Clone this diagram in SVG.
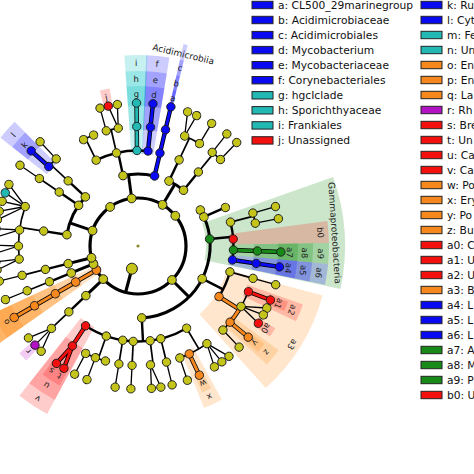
<svg xmlns="http://www.w3.org/2000/svg" width="474" height="474" viewBox="0 0 474 474">
<style>
.n circle{stroke:#1a1a1a;stroke-width:.9}
.y{fill:#c4c41a}.b{fill:#0a0af5}.c{fill:#22b8b4}.g{fill:#178a17}.r{fill:#f51010}.o{fill:#f7881e}.m{fill:#b312c4}
#wedges circle{fill:none}
.wb{stroke:#0000ff;stroke-opacity:.2}.wc{stroke:#00bfbf;stroke-opacity:.22}.wr{stroke:#ff0000;stroke-opacity:.2}.wo{stroke:#ff8000;stroke-opacity:.2}.wg{stroke:#008000;stroke-opacity:.2}.wm{stroke:#bf00bf;stroke-opacity:.2}
.W6{stroke-width:20}.W5{stroke-width:59}.W4{stroke-width:99}.W3{stroke-width:139}.W2{stroke-width:179}
#connectors circle,#connectors line,#connectors path{fill:none;stroke:#000}
.l2{stroke-width:3.2}.l3{stroke-width:3}.l4{stroke-width:2.4}.l5{stroke-width:1.7}.l6{stroke-width:1.3}
.cu{stroke-width:4.4}.cc{stroke-width:2.8}
#connectors .sb{stroke:#0a0af5}#connectors .sc{stroke:#22b8b4}#connectors .sg{stroke:#178a17}#connectors .sr{stroke:#f51010}#connectors .so{stroke:#f7881e}
.lab{font-family:"DejaVu Sans",sans-serif;font-size:8.5px;fill:#222;text-anchor:middle;dominant-baseline:central}
.big{font-family:"DejaVu Sans",sans-serif;font-size:9px;fill:#222;text-anchor:middle;dominant-baseline:central}
.leg text{font-family:"DejaVu Sans",sans-serif;font-size:10.7px;fill:#111}
.leg rect{stroke:#222;stroke-width:1}
</style>
<rect width="474" height="474" fill="#fff"/>
<g transform="translate(138,246)">
<g id="wedges">
<circle class="wb W3" r="137.5" pathLength="360" stroke-dasharray="1.2 360" transform="rotate(282.7)"/>
<circle class="wb W4" r="141.5" pathLength="360" stroke-dasharray="1.2 360" transform="rotate(282.7)"/>
<circle class="wb W5" r="145.5" pathLength="360" stroke-dasharray="1.2 360" transform="rotate(282.7)"/>
<circle class="wb W6" r="150" pathLength="360" stroke-dasharray="1.2 360" transform="rotate(282.7)"/>
<circle class="wb W4" r="141.5" pathLength="360" stroke-dasharray="7 360" transform="rotate(272.5)"/>
<circle class="wb W5" r="145.5" pathLength="360" stroke-dasharray="7 360" transform="rotate(272.5)"/>
<circle class="wb W6" r="150" pathLength="360" stroke-dasharray="7 360" transform="rotate(272.5)"/>
<circle class="wc W4" r="141.5" pathLength="360" stroke-dasharray="7 360" transform="rotate(265.9)"/>
<circle class="wc W5" r="145.5" pathLength="360" stroke-dasharray="7 360" transform="rotate(265.9)"/>
<circle class="wc W6" r="150" pathLength="360" stroke-dasharray="7 360" transform="rotate(265.9)"/>
<circle class="wr W6" r="150" pathLength="360" stroke-dasharray="3.6 360" transform="rotate(256.2)"/>
<circle class="wb W5" r="145.5" pathLength="360" stroke-dasharray="7 360" transform="rotate(218.2)"/>
<circle class="wb W6" r="150" pathLength="360" stroke-dasharray="7 360" transform="rotate(218.2)"/>
<circle class="wo W2" r="133.5" pathLength="360" stroke-dasharray="10 360" transform="rotate(145)"/>
<circle class="wo W3" r="137.5" pathLength="360" stroke-dasharray="10 360" transform="rotate(145)"/>
<circle class="wo W4" r="141.5" pathLength="360" stroke-dasharray="10 360" transform="rotate(145)"/>
<circle class="wo W5" r="145.5" pathLength="360" stroke-dasharray="10 360" transform="rotate(145)"/>
<circle class="wo W6" r="150" pathLength="360" stroke-dasharray="10 360" transform="rotate(145)"/>
<circle class="wm W6" r="150" pathLength="360" stroke-dasharray="3.6 360" transform="rotate(134.3)"/>
<circle class="wr W4" r="141.5" pathLength="360" stroke-dasharray="10 360" transform="rotate(118.4)"/>
<circle class="wr W5" r="145.5" pathLength="360" stroke-dasharray="10 360" transform="rotate(118.4)"/>
<circle class="wr W6" r="150" pathLength="360" stroke-dasharray="3.6 360" transform="rotate(123)"/>
<circle class="wr W6" r="150" pathLength="360" stroke-dasharray="3.6 360" transform="rotate(119.4)"/>
<circle class="wo W5" r="145.5" pathLength="360" stroke-dasharray="6.4 360" transform="rotate(61.4)"/>
<circle class="wo W6" r="150" pathLength="360" stroke-dasharray="3.6 360" transform="rotate(62.8)"/>
<circle class="wo W4" r="141.5" pathLength="360" stroke-dasharray="33 360" transform="rotate(15)"/>
<circle class="wo W5" r="145.5" pathLength="360" stroke-dasharray="6 360" transform="rotate(36.6)"/>
<circle class="wo W6" r="150" pathLength="360" stroke-dasharray="3.6 360" transform="rotate(37.8)"/>
<circle class="wr W6" r="150" pathLength="360" stroke-dasharray="3.6 360" transform="rotate(30.9)"/>
<circle class="wr W5" r="145.5" pathLength="360" stroke-dasharray="6 360" transform="rotate(19.5)"/>
<circle class="wr W6" r="150" pathLength="360" stroke-dasharray="3.6 360" transform="rotate(20.4)"/>
<circle class="wg W3" r="137.5" pathLength="360" stroke-dasharray="31.5 360" transform="rotate(340.5)"/>
<circle class="wr W4" r="141.5" pathLength="360" stroke-dasharray="6.6 360" transform="rotate(352.5)"/>
<circle class="wg W4" r="141.5" pathLength="360" stroke-dasharray="6.3 360" transform="rotate(359.1)"/>
<circle class="wg W5" r="145.5" pathLength="360" stroke-dasharray="6.3 360" transform="rotate(359.1)"/>
<circle class="wg W6" r="150" pathLength="360" stroke-dasharray="6.3 360" transform="rotate(359.1)"/>
<circle class="wb W4" r="141.5" pathLength="360" stroke-dasharray="6.3 360" transform="rotate(5.4)"/>
<circle class="wb W5" r="145.5" pathLength="360" stroke-dasharray="6.3 360" transform="rotate(5.4)"/>
<circle class="wb W6" r="150" pathLength="360" stroke-dasharray="6.3 360" transform="rotate(5.4)"/>
</g>
<g id="connectors">
<circle class="l2" r="48"/>
<line class="l2" x1="23.5" x2="48" transform="rotate(105)"/>
<line class="l3" x1="48" x2="72" transform="rotate(45)"/>
<circle class="l3" r="72" pathLength="360" stroke-dasharray="117 360" transform="rotate(-30)"/>
<line class="l3" x1="48" x2="72" transform="rotate(136.4)"/>
<line class="l3" x1="48" x2="72" transform="rotate(158)"/>
<line class="l3" x1="48" x2="72" transform="rotate(165.8)"/>
<line class="l3" x1="48" x2="72" transform="rotate(198.7)"/>
<circle class="l3" r="72" pathLength="360" stroke-dasharray="34 360" transform="rotate(189)"/>
<line class="l3" x1="48" x2="72" transform="rotate(262.4)"/>
<circle class="l3" r="72" pathLength="360" stroke-dasharray="25.3 360" transform="rotate(258)"/>
<line class="l3" x1="48" x2="72" transform="rotate(300.8)"/>
<circle class="l3" r="72" pathLength="360" stroke-dasharray="13.7 360" transform="rotate(295.5)"/>
<line class="l4" x1="72" x2="95.5" transform="rotate(336.2)"/>
<line class="l4" x1="72" x2="95.5" transform="rotate(354.4)"/>
<circle class="l4" r="95.5" pathLength="360" stroke-dasharray="22.9 360" transform="rotate(345.5)"/>
<line class="l4" x1="72" x2="95.5" transform="rotate(27)"/>
<circle class="l4" r="95.5" pathLength="360" stroke-dasharray="16.3 360" transform="rotate(15.7)"/>
<line class="l4" x1="72" x2="95.5" transform="rotate(87)"/>
<circle class="l4" r="95.5" pathLength="360" stroke-dasharray="63.9 360" transform="rotate(59.4)"/>
<line class="l4" x1="72" x2="95.5" transform="rotate(136.4)"/>
<line class="l4" x1="72" x2="95.5" transform="rotate(158)"/>
<line class="l4" x1="72" x2="95.5" transform="rotate(165.8)"/>
<line class="l4" x1="72" x2="95.5" transform="rotate(189)"/>
<line class="l4" x1="72" x2="95.5" transform="rotate(214.4)"/>
<line class="l4" x1="72" x2="95.5" transform="rotate(223)"/>
<line class="l4" x1="72" x2="95.5" transform="rotate(258)"/>
<circle class="l4" r="95.5" pathLength="360" stroke-dasharray="32 360" transform="rotate(244)"/>
<line class="l4" x1="72" x2="95.5" transform="rotate(295.5)"/>
<line class="l4" x1="72" x2="95.5" transform="rotate(309.2)"/>
<line class="l5" x1="95.5" x2="119.5" transform="rotate(345.5)"/>
<circle class="l5" r="119.5" pathLength="360" stroke-dasharray="5 360" transform="rotate(344)"/>
<line class="l5" x1="95.5" x2="119.5" transform="rotate(15.7)"/>
<line class="l5" x1="95.5" x2="119.5" transform="rotate(32)"/>
<circle class="l5" r="119.5" pathLength="360" stroke-dasharray="22.2 360" transform="rotate(22.5)"/>
<line class="l5" x1="95.5" x2="119.5" transform="rotate(59.4)"/>
<circle class="l5" r="119.5" pathLength="360" stroke-dasharray="14.7 360" transform="rotate(54.8)"/>
<line class="l5" x1="95.5" x2="119.5" transform="rotate(76.2)"/>
<line class="l5" x1="95.5" x2="119.5" transform="rotate(82.7)"/>
<circle class="l5" r="119.5" pathLength="360" stroke-dasharray="1.3 360" transform="rotate(82.7)"/>
<line class="l5" x1="95.5" x2="119.5" transform="rotate(92.85)"/>
<line class="l5" x1="95.5" x2="119.5" transform="rotate(99.2)"/>
<line class="l5" x1="95.5" x2="119.5" transform="rotate(109.4)"/>
<circle class="l5" r="119.5" pathLength="360" stroke-dasharray="10.2 360" transform="rotate(105.8)"/>
<line class="l5" x1="95.5" x2="119.5" transform="rotate(136.4)"/>
<line class="l5" x1="95.5" x2="119.5" transform="rotate(158)"/>
<line class="l5" x1="95.5" x2="119.5" transform="rotate(165.8)"/>
<line class="l5" x1="95.5" x2="119.5" transform="rotate(189)"/>
<circle class="l5" r="119.5" pathLength="360" stroke-dasharray="25.6 360" transform="rotate(173.7)"/>
<line class="l5" x1="95.5" x2="119.5" transform="rotate(214.4)"/>
<line class="l5" x1="95.5" x2="119.5" transform="rotate(223)"/>
<circle class="l5" r="119.5" pathLength="360" stroke-dasharray="5.1 360" transform="rotate(221.7)"/>
<line class="l5" x1="95.5" x2="119.5" transform="rotate(244)"/>
<circle class="l5" r="119.5" pathLength="360" stroke-dasharray="5.3 360" transform="rotate(242.9)"/>
<line class="l5" x1="95.5" x2="119.5" transform="rotate(257)"/>
<circle class="l5" r="119.5" pathLength="360" stroke-dasharray="5.9 360" transform="rotate(254.6)"/>
<line class="l5" x1="95.5" x2="119.5" transform="rotate(295.5)"/>
<circle class="l5" r="119.5" pathLength="360" stroke-dasharray="8 360" transform="rotate(293)"/>
<line class="l5" x1="95.5" x2="119.5" transform="rotate(309.2)"/>
<circle class="l5" r="119.5" pathLength="360" stroke-dasharray="5.25 360" transform="rotate(308.4)"/>
<g class="l6">
<line x1="119.5" x2="143" transform="rotate(344)"/>
<line x1="119.5" x2="143" transform="rotate(349)"/>
<line x1="119.5" x2="143" transform="rotate(15.7)"/>
<line x1="119.5" x2="143" transform="rotate(76.2)"/>
<line x1="119.5" x2="143" transform="rotate(92.85)"/>
<line x1="119.5" x2="143" transform="rotate(99.2)"/>
<line x1="119.5" x2="143" transform="rotate(110.9)"/>
<line x1="119.5" x2="143" transform="rotate(158)"/>
<line x1="119.5" x2="143" transform="rotate(165.8)"/>
<line x1="119.5" x2="143" transform="rotate(214.4)"/>
<line x1="119.5" x2="143" transform="rotate(226.8)"/>
<line x1="119.5" x2="143" transform="rotate(254.6)"/>
<line x1="119.5" x2="143" transform="rotate(301)"/>
<line x1="119.5" x2="143" transform="rotate(308.4)"/>
<line x1="119.5" x2="143" transform="rotate(313.65)"/>
<path d="M103.07 60.47L128.86 62.02M103.07 60.47L125.31 68.9M103.07 60.47L120.33 77.25M84.94 84.06L101.12 101.12M68.88 97.64L90.96 110.34M68.88 97.64L83.86 115.83M68.88 97.64L76.42 120.88M41.85 111.94L49.38 134.21M12.49 118.84L22.86 141.16M12.49 118.84L13.46 142.37M-52.39 107.41L-63.36 128.2M-86.54 82.41L-96.8 105.26M-86.54 82.41L-103.05 99.16M-86.54 82.41L-109.54 91.92M-118.78 13.11L-140.96 24.09M-118.78 13.11L-142.11 15.94M-119.5 0L-142.8 7.48M-119.5 0L-143 -0.75M-118.42 -16.01L-142.73 -8.73M-118.42 -16.01L-141.93 -17.43M-112.78 -39.5L-140.56 -26.31M-112.78 -39.5L-138.69 -34.83M-112.78 -39.5L-135.85 -44.66M-112.78 -39.5L-132.78 -53.11M-112.78 -39.5L-129.07 -61.56M-19.72 -117.86L-29.73 -139.87M-19.72 -117.86L-20.65 -141.5M46.69 -110L49.61 -134.12M46.69 -110L58.62 -130.43"/>
</g>
<g id="colored-edges">
<line class="cu" x1="72" x2="143" transform="rotate(283.3)"/>
<line class="cc sb" x1="72" x2="143" transform="rotate(283.3)"/>
<line class="cu" x1="95.5" x2="143" transform="rotate(276)"/>
<line class="cc sb" x1="95.5" x2="143" transform="rotate(276)"/>
<line class="cu" x1="95.5" x2="143" transform="rotate(269.4)"/>
<line class="cc sc" x1="95.5" x2="143" transform="rotate(269.4)"/>
<line class="cu" x1="95.5" x2="143" transform="rotate(2.4)"/>
<line class="cc sg" x1="95.5" x2="143" transform="rotate(2.4)"/>
<line class="cu" x1="95.5" x2="143" transform="rotate(8.4)"/>
<line class="cc sb" x1="95.5" x2="143" transform="rotate(8.4)"/>
<line class="cu" x1="48" x2="143" transform="rotate(150)"/>
<line class="cc so" x1="48" x2="143" transform="rotate(150)"/>
<line class="cu" x1="119.5" x2="143" transform="rotate(221.7)"/>
<line class="cc sb" x1="119.5" x2="143" transform="rotate(221.7)"/>
<line class="cu" x1="119.5" x2="143" transform="rotate(64.6)"/>
<line class="cc so" x1="119.5" x2="143" transform="rotate(64.6)"/>
<line class="cu" x1="119.5" x2="143" transform="rotate(39.6)"/>
<line class="cc so" x1="119.5" x2="143" transform="rotate(39.6)"/>
<line class="cu" x1="95.5" x2="119.5" transform="rotate(32)"/>
<circle class="cu" r="119.5" pathLength="360" stroke-dasharray="7.6 360" transform="rotate(32)"/>
<line class="cc so" x1="95.5" x2="119.5" transform="rotate(32)"/>
<circle class="cc so" r="119.5" pathLength="360" stroke-dasharray="7.6 360" transform="rotate(32)"/>
<line class="cu" x1="95.5" x2="119.5" transform="rotate(123.3)"/>
<line class="cc sr" x1="95.5" x2="119.5" transform="rotate(123.3)"/>
<path class="cu" d="M110.41 45.73L132.4 54.03M-65.61 99.88L-74.07 122.32M-65.61 99.88L-81.61 117.42"/>
<path class="cc sr" d="M110.41 45.73L132.4 54.03M-65.61 99.88L-74.07 122.32M-65.61 99.88L-81.61 117.42"/>
</g>
</g>
<g id="nodes" class="n">
<circle cx="0" cy="0" r="1.6" style="fill:#8a8a30;stroke:none"/>
<g id="kingdom"><circle class="y" cx="23.5" r="5.5" transform="rotate(105)"/></g>
<g id="P1"><circle class="y" cx="48" r="4.4" transform="rotate(45)"/></g>
<g id="P2"><circle class="y" cx="48" r="4.4" transform="rotate(136.4)"/></g>
<g id="P3"><circle class="o" cx="48" r="4.4" transform="rotate(150)"/></g>
<g id="P4a"><circle class="y" cx="48" r="4.4" transform="rotate(158)"/></g>
<g id="P4b"><circle class="y" cx="48" r="4.4" transform="rotate(165.8)"/></g>
<g id="P5"><circle class="y" cx="48" r="4.4" transform="rotate(198.7)"/></g>
<g id="P6"><circle class="y" cx="48" r="4.4" transform="rotate(234.5)"/></g>
<g id="P7"><circle class="y" cx="48" r="4.4" transform="rotate(262.4)"/></g>
<g id="P8"><circle class="y" cx="48" r="4.4" transform="rotate(300.8)"/></g>
<g id="P9"><circle class="y" cx="48" r="4.4" transform="rotate(321)"/></g>
<g id="C330"><circle class="y" cx="72" r="4.3" transform="rotate(330)"/></g>
<g id="C336"><circle class="y" cx="72" r="4.3" transform="rotate(336.2)"/></g>
<g id="Gammaproteobacteria"><circle class="g" cx="72" r="4.3" transform="rotate(354.4)"/></g>
<g id="C27"><circle class="y" cx="72" r="4.3" transform="rotate(27)"/></g>
<g id="C87"><circle class="y" cx="72" r="4.3" transform="rotate(87)"/></g>
<g id="C136"><circle class="y" cx="72" r="4.3" transform="rotate(136.4)"/></g>
<g id="C150"><circle class="o" cx="72" r="4.3" transform="rotate(150)"/></g>
<g id="C158"><circle class="y" cx="72" r="4.3" transform="rotate(158)"/></g>
<g id="C166"><circle class="y" cx="72" r="4.3" transform="rotate(165.8)"/></g>
<g id="C189"><circle class="y" cx="72" r="4.3" transform="rotate(189)"/></g>
<g id="C214"><circle class="y" cx="72" r="4.3" transform="rotate(214.4)"/></g>
<g id="C223"><circle class="y" cx="72" r="4.3" transform="rotate(223)"/></g>
<g id="C258"><circle class="y" cx="72" r="4.3" transform="rotate(258)"/></g>
<g id="Acidimicrobiia"><circle class="b" cx="72" r="4.3" transform="rotate(283.3)"/></g>
<g id="C295"><circle class="y" cx="72" r="4.3" transform="rotate(295.5)"/></g>
<g id="C309"><circle class="y" cx="72" r="4.3" transform="rotate(309.2)"/></g>
<g id="O336"><circle class="y" cx="95.5" r="4.2" transform="rotate(336.2)"/></g>
<g id="O345"><circle class="y" cx="95.5" r="4.2" transform="rotate(345.5)"/></g>
<g id="b0"><circle class="r" cx="95.5" r="4.2" transform="rotate(355.8)"/></g>
<g id="a9"><circle class="g" cx="95.5" r="4.2" transform="rotate(2.4)"/></g>
<g id="a6"><circle class="b" cx="95.5" r="4.2" transform="rotate(8.4)"/></g>
<g id="O16"><circle class="y" cx="95.5" r="4.2" transform="rotate(15.7)"/></g>
<g id="a3"><circle class="o" cx="95.5" r="4.2" transform="rotate(32)"/></g>
<g id="O59"><circle class="y" cx="95.5" r="4.2" transform="rotate(59.4)"/></g>
<g id="O76"><circle class="y" cx="95.5" r="4.2" transform="rotate(76.2)"/></g>
<g id="O83"><circle class="y" cx="95.5" r="4.2" transform="rotate(82.7)"/></g>
<g id="O93"><circle class="y" cx="95.5" r="4.2" transform="rotate(92.85)"/></g>
<g id="O99"><circle class="y" cx="95.5" r="4.2" transform="rotate(99.2)"/></g>
<g id="O109"><circle class="y" cx="95.5" r="4.2" transform="rotate(109.4)"/></g>
<g id="v"><circle class="r" cx="95.5" r="4.2" transform="rotate(123.3)"/></g>
<g id="O136"><circle class="y" cx="95.5" r="4.2" transform="rotate(136.4)"/></g>
<g id="q"><circle class="o" cx="95.5" r="4.2" transform="rotate(150)"/></g>
<g id="O158"><circle class="y" cx="95.5" r="4.2" transform="rotate(158)"/></g>
<g id="O166"><circle class="y" cx="95.5" r="4.2" transform="rotate(165.8)"/></g>
<g id="O189"><circle class="y" cx="95.5" r="4.2" transform="rotate(189)"/></g>
<g id="O214"><circle class="y" cx="95.5" r="4.2" transform="rotate(214.4)"/></g>
<g id="O223"><circle class="y" cx="95.5" r="4.2" transform="rotate(223)"/></g>
<g id="O244"><circle class="y" cx="95.5" r="4.2" transform="rotate(244)"/></g>
<g id="O257"><circle class="y" cx="95.5" r="4.2" transform="rotate(257)"/></g>
<g id="i"><circle class="c" cx="95.5" r="4.2" transform="rotate(269.4)"/></g>
<g id="f"><circle class="b" cx="95.5" r="4.2" transform="rotate(276)"/></g>
<g id="c"><circle class="b" cx="95.5" r="4.2" transform="rotate(283.3)"/></g>
<g id="O295"><circle class="y" cx="95.5" r="4.2" transform="rotate(295.5)"/></g>
<g id="O309"><circle class="y" cx="95.5" r="4.2" transform="rotate(309.2)"/></g>
<g id="F344"><circle class="y" cx="119.5" r="4.2" transform="rotate(344)"/></g>
<g id="F349"><circle class="y" cx="119.5" r="4.2" transform="rotate(349)"/></g>
<g id="a8"><circle class="g" cx="119.5" r="4.2" transform="rotate(2.4)"/></g>
<g id="a5"><circle class="b" cx="119.5" r="4.2" transform="rotate(8.4)"/></g>
<g id="F16"><circle class="y" cx="119.5" r="4.2" transform="rotate(15.7)"/></g>
<g id="a2"><circle class="r" cx="119.5" r="4.2" transform="rotate(22.5)"/></g>
<g id="F30"><circle class="y" cx="119.5" r="4.2" transform="rotate(30.4)"/></g>
<g id="z"><circle class="o" cx="119.5" r="4.2" transform="rotate(39.6)"/></g>
<g id="F45"><circle class="y" cx="119.5" r="4.2" transform="rotate(44.7)"/></g>
<g id="F55"><circle class="y" cx="119.5" r="4.2" transform="rotate(54.8)"/></g>
<g id="x"><circle class="o" cx="119.5" r="4.2" transform="rotate(64.6)"/></g>
<g id="F70"><circle class="y" cx="119.5" r="4.2" transform="rotate(69.5)"/></g>
<g id="F76"><circle class="y" cx="119.5" r="4.2" transform="rotate(76.2)"/></g>
<g id="F84"><circle class="y" cx="119.5" r="4.2" transform="rotate(84)"/></g>
<g id="F93"><circle class="y" cx="119.5" r="4.2" transform="rotate(92.85)"/></g>
<g id="F99"><circle class="y" cx="119.5" r="4.2" transform="rotate(99.2)"/></g>
<g id="F106"><circle class="y" cx="119.5" r="4.2" transform="rotate(105.8)"/></g>
<g id="F111"><circle class="y" cx="119.5" r="4.2" transform="rotate(110.9)"/></g>
<g id="F116"><circle class="y" cx="119.5" r="4.2" transform="rotate(116)"/></g>
<g id="u"><circle class="r" cx="119.5" r="4.2" transform="rotate(123.3)"/></g>
<g id="F136"><circle class="y" cx="119.5" r="4.2" transform="rotate(136.4)"/></g>
<g id="p"><circle class="o" cx="119.5" r="4.2" transform="rotate(150)"/></g>
<g id="F158"><circle class="y" cx="119.5" r="4.2" transform="rotate(158)"/></g>
<g id="F166"><circle class="y" cx="119.5" r="4.2" transform="rotate(165.8)"/></g>
<g id="F174"><circle class="y" cx="119.5" r="4.2" transform="rotate(173.7)"/></g>
<g id="F180"><circle class="y" cx="119.5" r="4.2" transform="rotate(180)"/></g>
<g id="F188"><circle class="y" cx="119.5" r="4.2" transform="rotate(187.7)"/></g>
<g id="F199"><circle class="y" cx="119.5" r="4.2" transform="rotate(199.3)"/></g>
<g id="F214"><circle class="y" cx="119.5" r="4.2" transform="rotate(214.4)"/></g>
<g id="l"><circle class="b" cx="119.5" r="4.2" transform="rotate(221.7)"/></g>
<g id="F227"><circle class="y" cx="119.5" r="4.2" transform="rotate(226.8)"/></g>
<g id="F243"><circle class="y" cx="119.5" r="4.2" transform="rotate(242.9)"/></g>
<g id="F248"><circle class="y" cx="119.5" r="4.2" transform="rotate(248.2)"/></g>
<g id="F255"><circle class="y" cx="119.5" r="4.2" transform="rotate(254.6)"/></g>
<g id="F261"><circle class="y" cx="119.5" r="4.2" transform="rotate(260.5)"/></g>
<g id="h"><circle class="c" cx="119.5" r="4.2" transform="rotate(269.4)"/></g>
<g id="e"><circle class="b" cx="119.5" r="4.2" transform="rotate(276)"/></g>
<g id="b"><circle class="b" cx="119.5" r="4.2" transform="rotate(283.3)"/></g>
<g id="F293"><circle class="y" cx="119.5" r="4.2" transform="rotate(293)"/></g>
<g id="F301"><circle class="y" cx="119.5" r="4.2" transform="rotate(301)"/></g>
<g id="F308"><circle class="y" cx="119.5" r="4.2" transform="rotate(308.4)"/></g>
<g id="F314"><circle class="y" cx="119.5" r="4.2" transform="rotate(313.65)"/></g>
<g id="G344"><circle class="y" cx="143" r="4.2" transform="rotate(344)"/></g>
<g id="G349"><circle class="y" cx="143" r="4.2" transform="rotate(349)"/></g>
<g id="a7"><circle class="g" cx="143" r="4.2" transform="rotate(2.4)"/></g>
<g id="a4"><circle class="b" cx="143" r="4.2" transform="rotate(8.4)"/></g>
<g id="G16"><circle class="y" cx="143" r="4.2" transform="rotate(15.7)"/></g>
<g id="a1"><circle class="r" cx="143" r="4.2" transform="rotate(22.2)"/></g>
<g id="G26"><circle class="y" cx="143" r="4.2" transform="rotate(25.7)"/></g>
<g id="G29"><circle class="y" cx="143" r="4.2" transform="rotate(28.8)"/></g>
<g id="a0"><circle class="r" cx="143" r="4.2" transform="rotate(32.7)"/></g>
<g id="y"><circle class="o" cx="143" r="4.2" transform="rotate(39.6)"/></g>
<g id="G45"><circle class="y" cx="143" r="4.2" transform="rotate(45)"/></g>
<g id="G51"><circle class="y" cx="143" r="4.2" transform="rotate(50.5)"/></g>
<g id="G54"><circle class="y" cx="143" r="4.2" transform="rotate(54.1)"/></g>
<g id="G58"><circle class="y" cx="143" r="4.2" transform="rotate(57.7)"/></g>
<g id="w"><circle class="o" cx="143" r="4.2" transform="rotate(64.6)"/></g>
<g id="G70"><circle class="y" cx="143" r="4.2" transform="rotate(69.8)"/></g>
<g id="G76"><circle class="y" cx="143" r="4.2" transform="rotate(76.2)"/></g>
<g id="G81"><circle class="y" cx="143" r="4.2" transform="rotate(80.8)"/></g>
<g id="G85"><circle class="y" cx="143" r="4.2" transform="rotate(84.6)"/></g>
<g id="G93"><circle class="y" cx="143" r="4.2" transform="rotate(92.85)"/></g>
<g id="G99"><circle class="y" cx="143" r="4.2" transform="rotate(99.2)"/></g>
<g id="G111"><circle class="y" cx="143" r="4.2" transform="rotate(110.9)"/></g>
<g id="G116"><circle class="y" cx="143" r="4.2" transform="rotate(116.3)"/></g>
<g id="t"><circle class="r" cx="143" r="4.2" transform="rotate(121.2)"/></g>
<g id="s"><circle class="r" cx="143" r="4.2" transform="rotate(124.8)"/></g>
<g id="G133"><circle class="y" cx="143" r="4.2" transform="rotate(132.6)"/></g>
<g id="r"><circle class="m" cx="143" r="4.2" transform="rotate(136.1)"/></g>
<g id="G140"><circle class="y" cx="143" r="4.2" transform="rotate(140)"/></g>
<g id="o"><circle class="o" cx="143" r="4.2" transform="rotate(150)"/></g>
<g id="G158"><circle class="y" cx="143" r="4.2" transform="rotate(158)"/></g>
<g id="G166"><circle class="y" cx="143" r="4.2" transform="rotate(165.8)"/></g>
<g id="G170"><circle class="y" cx="143" r="4.2" transform="rotate(170.3)"/></g>
<g id="G174"><circle class="y" cx="143" r="4.2" transform="rotate(173.6)"/></g>
<g id="G177"><circle class="y" cx="143" r="4.2" transform="rotate(177)"/></g>
<g id="G180"><circle class="y" cx="143" r="4.2" transform="rotate(180.3)"/></g>
<g id="G184"><circle class="y" cx="143" r="4.2" transform="rotate(183.5)"/></g>
<g id="G187"><circle class="y" cx="143" r="4.2" transform="rotate(187)"/></g>
<g id="G191"><circle class="y" cx="143" r="4.2" transform="rotate(190.6)"/></g>
<g id="G194"><circle class="y" cx="143" r="4.2" transform="rotate(194.1)"/></g>
<g id="G198"><circle class="y" cx="143" r="4.2" transform="rotate(198.2)"/></g>
<g id="m"><circle class="c" cx="143" r="4.2" transform="rotate(201.8)"/></g>
<g id="G206"><circle class="y" cx="143" r="4.2" transform="rotate(205.5)"/></g>
<g id="G214"><circle class="y" cx="143" r="4.2" transform="rotate(214.4)"/></g>
<g id="k"><circle class="b" cx="143" r="4.2" transform="rotate(221.7)"/></g>
<g id="G227"><circle class="y" cx="143" r="4.2" transform="rotate(226.8)"/></g>
<g id="G255"><circle class="y" cx="143" r="4.2" transform="rotate(254.6)"/></g>
<g id="j"><circle class="r" cx="143" r="4.2" transform="rotate(258)"/></g>
<g id="G262"><circle class="y" cx="143" r="4.2" transform="rotate(261.7)"/></g>
<g id="g"><circle class="c" cx="143" r="4.2" transform="rotate(269.4)"/></g>
<g id="d"><circle class="b" cx="143" r="4.2" transform="rotate(276)"/></g>
<g id="a"><circle class="b" cx="143" r="4.2" transform="rotate(283.3)"/></g>
<g id="G290"><circle class="y" cx="143" r="4.2" transform="rotate(290.3)"/></g>
<g id="G294"><circle class="y" cx="143" r="4.2" transform="rotate(294.2)"/></g>
<g id="G301"><circle class="y" cx="143" r="4.2" transform="rotate(301)"/></g>
<g id="G308"><circle class="y" cx="143" r="4.2" transform="rotate(308.4)"/></g>
<g id="G314"><circle class="y" cx="143" r="4.2" transform="rotate(313.65)"/></g>
</g>
<g id="labels">
<text class="lab" transform="rotate(283.3) translate(152 0) rotate(90)">a</text>
<text class="lab" transform="rotate(283.3) translate(167 0) rotate(90)">b</text>
<text class="lab" transform="rotate(283.3) translate(183 0) rotate(90)">c</text>
<text class="lab" transform="rotate(276) translate(152 0) rotate(90)">d</text>
<text class="lab" transform="rotate(276) translate(167 0) rotate(90)">e</text>
<text class="lab" transform="rotate(276) translate(183 0) rotate(90)">f</text>
<text class="lab" transform="rotate(269.4) translate(152 0) rotate(90)">g</text>
<text class="lab" transform="rotate(269.4) translate(167 0) rotate(90)">h</text>
<text class="lab" transform="rotate(269.4) translate(183 0) rotate(90)">i</text>
<text class="lab" transform="rotate(258) translate(152 0) rotate(90)">j</text>
<text class="lab" transform="rotate(221.7) translate(152 0) rotate(90)">k</text>
<text class="lab" transform="rotate(221.7) translate(167 0) rotate(90)">l</text>
<text class="lab" transform="rotate(150) translate(152 0) rotate(90)">o</text>
<text class="lab" transform="rotate(136.1) translate(152 0) rotate(90)">r</text>
<text class="lab" transform="rotate(124.8) translate(152 0) rotate(90)">s</text>
<text class="lab" transform="rotate(121.2) translate(152 0) rotate(90)">t</text>
<text class="lab" transform="rotate(123.3) translate(167 0) rotate(90)">u</text>
<text class="lab" transform="rotate(123.3) translate(183 0) rotate(90)">v</text>
<text class="lab" transform="rotate(64.6) translate(152 0) rotate(90)">w</text>
<text class="lab" transform="rotate(64.6) translate(167 0) rotate(90)">x</text>
<text class="lab" transform="rotate(39.6) translate(152 0) rotate(90)">y</text>
<text class="lab" transform="rotate(39.6) translate(167 0) rotate(90)">z</text>
<text class="lab" transform="rotate(32.7) translate(152 0) rotate(90)">a0</text>
<text class="lab" transform="rotate(22.2) translate(152 0) rotate(90)">a1</text>
<text class="lab" transform="rotate(22.5) translate(167 0) rotate(90)">a2</text>
<text class="lab" transform="rotate(32.5) translate(183 0) rotate(90)">a3</text>
<text class="lab" transform="rotate(8.4) translate(152 0) rotate(90)">a4</text>
<text class="lab" transform="rotate(8.4) translate(167 0) rotate(90)">a5</text>
<text class="lab" transform="rotate(8.4) translate(183 0) rotate(90)">a6</text>
<text class="lab" transform="rotate(2.4) translate(152 0) rotate(90)">a7</text>
<text class="lab" transform="rotate(2.4) translate(167 0) rotate(90)">a8</text>
<text class="lab" transform="rotate(2.4) translate(183 0) rotate(90)">a9</text>
<text class="lab" transform="rotate(355.8) translate(183 0) rotate(90)">b0</text>
<text class="big" transform="rotate(356.2) translate(197 0) rotate(90)">Gammaproteobacteria</text>
<text class="big" transform="rotate(283.3) translate(197 0) rotate(90)">Acidimicrobiia</text>
</g>
</g>
<g id="legend" class="leg">
<rect x="252" y="1.3" width="21" height="7.4" fill="#0a0af0"/><text x="278" y="8.9">a: CL500_29marinegroup</text>
<rect x="252" y="16.3" width="21" height="7.4" fill="#0a0af0"/><text x="278" y="23.9">b: Acidimicrobiaceae</text>
<rect x="252" y="31.4" width="21" height="7.4" fill="#0a0af0"/><text x="278" y="39">c: Acidimicrobiales</text>
<rect x="252" y="46.4" width="21" height="7.4" fill="#0a0af0"/><text x="278" y="54">d: Mycobacterium</text>
<rect x="252" y="61.5" width="21" height="7.4" fill="#0a0af0"/><text x="278" y="69.1">e: Mycobacteriaceae</text>
<rect x="252" y="76.5" width="21" height="7.4" fill="#0a0af0"/><text x="278" y="84.1">f: Corynebacteriales</text>
<rect x="252" y="91.6" width="21" height="7.4" fill="#22b8b4"/><text x="278" y="99.2">g: hgcIclade</text>
<rect x="252" y="106.6" width="21" height="7.4" fill="#22b8b4"/><text x="278" y="114.2">h: Sporichthyaceae</text>
<rect x="252" y="121.7" width="21" height="7.4" fill="#22b8b4"/><text x="278" y="129.3">i: Frankiales</text>
<rect x="252" y="136.7" width="21" height="7.4" fill="#f51010"/><text x="278" y="144.3">j: Unassigned</text>
<rect x="421" y="1.3" width="21" height="7.4" fill="#0a0af0"/><text x="447" y="8.9">k: Ru</text>
<rect x="421" y="16.3" width="21" height="7.4" fill="#0a0af0"/><text x="447" y="23.9">l: Cyt</text>
<rect x="421" y="31.3" width="21" height="7.4" fill="#22b8b4"/><text x="447" y="38.9">m: Fe</text>
<rect x="421" y="46.3" width="21" height="7.4" fill="#22b8b4"/><text x="447" y="53.9">n: Un</text>
<rect x="421" y="61.3" width="21" height="7.4" fill="#f7881e"/><text x="447" y="68.9">o: En</text>
<rect x="421" y="76.3" width="21" height="7.4" fill="#f7881e"/><text x="447" y="83.9">p: En</text>
<rect x="421" y="91.3" width="21" height="7.4" fill="#f7881e"/><text x="447" y="98.9">q: La</text>
<rect x="421" y="106.3" width="21" height="7.4" fill="#b312c4"/><text x="447" y="113.9">r: Rh</text>
<rect x="421" y="121.3" width="21" height="7.4" fill="#f51010"/><text x="447" y="128.9">s: Bre</text>
<rect x="421" y="136.3" width="21" height="7.4" fill="#f51010"/><text x="447" y="143.9">t: Un</text>
<rect x="421" y="151.3" width="21" height="7.4" fill="#f51010"/><text x="447" y="158.9">u: Ca</text>
<rect x="421" y="166.3" width="21" height="7.4" fill="#f51010"/><text x="447" y="173.9">v: Ca</text>
<rect x="421" y="181.3" width="21" height="7.4" fill="#f7881e"/><text x="447" y="188.9">w: Po</text>
<rect x="421" y="196.3" width="21" height="7.4" fill="#f7881e"/><text x="447" y="203.9">x: Ery</text>
<rect x="421" y="211.3" width="21" height="7.4" fill="#f7881e"/><text x="447" y="218.9">y: Po</text>
<rect x="421" y="226.3" width="21" height="7.4" fill="#f7881e"/><text x="447" y="233.9">z: Bu</text>
<rect x="421" y="241.3" width="21" height="7.4" fill="#f51010"/><text x="447" y="248.9">a0: C</text>
<rect x="421" y="256.3" width="21" height="7.4" fill="#f51010"/><text x="447" y="263.9">a1: U</text>
<rect x="421" y="271.3" width="21" height="7.4" fill="#f51010"/><text x="447" y="278.9">a2: U</text>
<rect x="421" y="286.3" width="21" height="7.4" fill="#f7881e"/><text x="447" y="293.9">a3: B</text>
<rect x="421" y="301.3" width="21" height="7.4" fill="#0a0af0"/><text x="447" y="308.9">a4: L</text>
<rect x="421" y="316.3" width="21" height="7.4" fill="#0a0af0"/><text x="447" y="323.9">a5: L</text>
<rect x="421" y="331.3" width="21" height="7.4" fill="#0a0af0"/><text x="447" y="338.9">a6: L</text>
<rect x="421" y="346.3" width="21" height="7.4" fill="#178a17"/><text x="447" y="353.9">a7: A</text>
<rect x="421" y="361.3" width="21" height="7.4" fill="#178a17"/><text x="447" y="368.9">a8: M</text>
<rect x="421" y="376.3" width="21" height="7.4" fill="#178a17"/><text x="447" y="383.9">a9: P</text>
<rect x="421" y="391.3" width="21" height="7.4" fill="#f51010"/><text x="447" y="398.9">b0: U</text>
</g>
</svg>
